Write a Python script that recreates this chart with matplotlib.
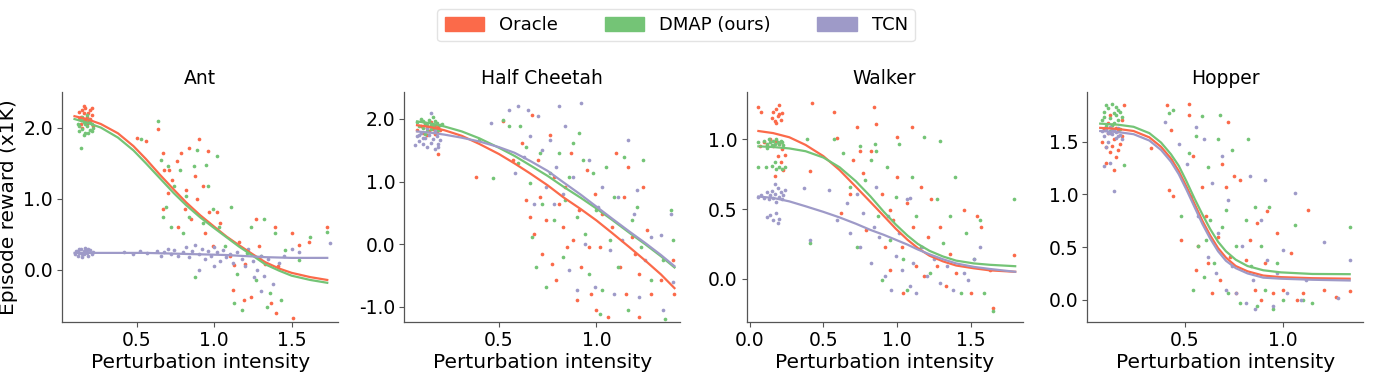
import numpy as np
import matplotlib
matplotlib.use("Agg")
import matplotlib.pyplot as plt
from matplotlib.patches import Patch

# colours for the three methods
c_oracle = '#fb6a4a'
c_dmap = '#74c476'
c_tcn = '#9e9ac8'

methods = ['Oracle', 'DMAP (ours)', 'TCN']
titles = ['Ant', 'Half Cheetah', 'Walker', 'Hopper']

# ---------------- Ant ----------------
ant_oracle_pts = [
    (0.13, 2.22), (0.14, 2.15), (0.15, 2.25), (0.16, 2.10), (0.17, 2.28), (0.18, 2.05), (0.19, 2.20),
    (0.20, 2.12), (0.21, 2.18), (0.14, 2.05), (0.16, 2.20), (0.18, 2.15), (0.20, 2.25), (0.15, 2.00),
    (0.17, 2.10), (0.19, 2.08), (0.22, 2.02), (0.13, 2.12), (0.21, 2.28), (0.16, 2.30),
    (0.50, 1.85), (0.56, 1.81), (0.64, 1.98), (0.67, 1.65), (0.68, 1.41), (0.67, 0.85), (0.70, 1.08),
    (0.71, 1.41), (0.73, 1.27), (0.76, 1.53), (0.77, 0.61), (0.79, 1.65), (0.81, 0.85), (0.82, 1.13),
    (0.84, 1.72), (0.85, 0.71), (0.88, 1.32), (0.89, 0.99), (0.90, 1.84), (0.93, 1.18), (0.94, 0.52),
    (0.96, 1.67), (0.97, 0.82), (0.99, 0.33), (1.02, 0.82), (1.04, 0.66), (1.10, 0.19), (1.12, -0.28),
    (1.13, 0.07), (1.16, 0.40), (1.19, -0.42), (1.20, 0.09), (1.24, -0.38), (1.27, 0.71), (1.29, 0.33),
    (1.33, 0.09), (1.37, -0.47), (1.39, 0.61), (1.40, -0.61), (1.41, 0.05), (1.50, 0.52), (1.51, -0.68),
    (1.55, 0.35), (1.61, 0.40), (1.73, 0.61),
]
ant_dmap_pts = [
    (0.12, 2.05), (0.13, 1.95), (0.14, 2.10), (0.15, 1.98), (0.16, 2.08), (0.17, 1.92), (0.18, 2.02),
    (0.19, 2.12), (0.20, 1.97), (0.21, 2.05), (0.14, 1.72), (0.15, 2.15), (0.17, 2.05), (0.19, 1.93),
    (0.22, 2.00), (0.13, 2.02), (0.16, 1.90), (0.18, 2.18), (0.20, 2.08), (0.21, 1.95),
    (0.53, 1.84), (0.64, 2.09), (0.66, 1.55), (0.67, 0.75), (0.69, 0.89), (0.70, 1.46), (0.72, 0.61),
    (0.74, 1.18), (0.78, 1.41), (0.80, 0.52), (0.82, 1.04), (0.84, 0.75), (0.87, 1.46), (0.89, 1.69),
    (0.88, -0.10), (0.93, 0.66), (0.95, 1.48), (0.96, 1.18), (0.99, 0.85), (1.02, 1.60), (1.03, 0.61),
    (1.07, 0.33), (1.11, 0.89), (1.13, -0.47), (1.15, -0.05), (1.18, -0.56), (1.21, 0.24), (1.24, 0.61),
    (1.27, -0.14), (1.30, 0.19), (1.32, 0.71), (1.34, -0.52), (1.36, -0.33), (1.39, 0.52), (1.43, -0.42),
    (1.46, 0.28), (1.55, 0.14), (1.62, 0.47), (1.73, 0.54),
]
ant_tcn_pts = [
    (0.10, 0.22), (0.11, 0.26), (0.12, 0.20), (0.13, 0.24), (0.14, 0.29), (0.15, 0.22), (0.16, 0.27),
    (0.17, 0.31), (0.18, 0.24), (0.19, 0.20), (0.20, 0.28), (0.21, 0.23), (0.22, 0.25), (0.13, 0.30),
    (0.15, 0.18), (0.17, 0.26), (0.19, 0.30), (0.16, 0.23), (0.18, 0.28), (0.12, 0.27),
    (0.42, 0.25), (0.48, 0.22), (0.52, 0.27), (0.57, 0.24), (0.63, 0.27), (0.66, 0.20), (0.68, 0.25),
    (0.70, 0.30), (0.72, 0.22), (0.74, 0.28), (0.77, 0.20), (0.80, 0.25), (0.82, 0.32), (0.84, 0.18),
    (0.86, 0.27), (0.88, 0.35), (0.90, 0.22), (0.92, 0.30), (0.94, 0.15), (0.96, 0.27), (0.98, 0.20),
    (1.00, 0.32), (1.02, 0.25), (1.04, 0.12), (1.06, 0.28), (1.08, 0.18), (1.10, 0.22), (1.12, 0.10),
    (1.15, 0.25), (1.18, 0.15), (1.20, 0.05), (1.22, 0.30), (1.25, 0.12), (1.28, 0.00), (1.30, 0.20),
    (1.32, -0.08), (1.35, 0.15), (1.38, -0.20), (1.42, 0.10), (1.45, 0.20), (1.50, 0.30), (1.55, 0.25),
    (1.75, 0.38), (0.90, 0.00), (1.00, 0.05), (1.30, -0.30), (1.26, -0.10),
]
ant_curve_x = [0.10, 0.18, 0.27, 0.38, 0.48, 0.56, 0.65, 0.74, 0.82, 0.91, 1.00, 1.08, 1.16, 1.25,
               1.33, 1.42, 1.50, 1.62, 1.73]
ant_oracle_curve = [2.16, 2.12, 2.05, 1.92, 1.74, 1.56, 1.34, 1.13, 0.95, 0.77, 0.61, 0.47, 0.35,
                    0.22, 0.11, 0.02, -0.04, -0.10, -0.14]
ant_dmap_curve = [2.12, 2.07, 2.00, 1.86, 1.68, 1.50, 1.29, 1.08, 0.91, 0.74, 0.59, 0.46, 0.33,
                  0.20, 0.08, -0.01, -0.08, -0.14, -0.18]
ant_tcn_curve = [0.24, 0.24, 0.24, 0.24, 0.24, 0.24, 0.235, 0.23, 0.225, 0.22, 0.215, 0.21, 0.20,
                 0.19, 0.18, 0.175, 0.17, 0.17, 0.17]

# ---------------- Half Cheetah ----------------
hc_oracle_pts = [
    (0.08, 1.82), (0.10, 1.88), (0.11, 1.78), (0.12, 1.92), (0.13, 1.85), (0.14, 1.80), (0.15, 1.95),
    (0.16, 1.84), (0.17, 1.90), (0.18, 1.79), (0.19, 1.87), (0.20, 1.83), (0.19, 1.44), (0.13, 1.75),
    (0.15, 1.88), (0.17, 1.76),
    (0.38, 1.08), (0.52, 1.96), (0.57, 1.35), (0.62, 1.62), (0.64, 0.71), (0.66, 0.44), (0.67, 2.07),
    (0.68, 0.17), (0.70, 1.35), (0.71, 0.76), (0.72, -0.15), (0.74, 0.39), (0.76, 1.75), (0.77, -0.31),
    (0.78, 1.08), (0.79, -0.57), (0.81, 0.65), (0.83, 0.28), (0.84, 0.92), (0.85, -0.04), (0.87, 1.46),
    (0.88, 0.07), (0.90, -0.89), (0.91, 0.55), (0.92, -0.36), (0.95, 1.19), (0.96, -0.04), (0.97, -0.79),
    (0.99, 0.81), (1.00, -1.05), (1.02, -0.04), (1.03, 0.49), (1.06, -1.16), (1.08, 0.28), (1.10, 1.46),
    (1.12, -0.36), (1.14, 0.76), (1.15, -0.79), (1.16, 1.24), (1.18, 0.12), (1.20, -0.15), (1.22, -0.47),
    (1.22, -1.16), (1.24, 0.92), (1.26, 0.23), (1.28, -0.79), (1.33, -0.57), (1.39, -0.25), (1.40, -0.79),
]
hc_dmap_pts = [
    (0.08, 1.95), (0.09, 1.88), (0.10, 2.00), (0.11, 1.85), (0.12, 1.93), (0.13, 1.80), (0.14, 1.98),
    (0.15, 1.90), (0.16, 2.03), (0.17, 1.86), (0.18, 1.94), (0.19, 1.82), (0.20, 1.90), (0.11, 1.97),
    (0.13, 1.91), (0.15, 1.84), (0.17, 1.96), (0.12, 1.76), (0.16, 1.88), (0.21, 1.92),
    (0.40, 1.67), (0.47, 1.05), (0.52, 1.99), (0.55, 1.88), (0.60, 1.30), (0.61, 1.88), (0.64, 1.56),
    (0.66, 0.97), (0.67, 0.12), (0.69, -0.36), (0.71, 1.46), (0.72, 0.65), (0.74, -0.68), (0.76, 1.14),
    (0.78, 0.39), (0.81, 1.46), (0.83, -0.20), (0.84, 0.71), (0.86, 1.08), (0.88, 1.62), (0.90, 0.44),
    (0.91, 1.78), (0.93, 1.35), (0.94, 0.17), (0.96, -0.47), (0.98, 1.14), (1.00, 0.55), (1.02, -1.11),
    (1.03, -0.73), (1.05, 1.24), (1.07, 0.07), (1.09, 0.76), (1.11, -0.36), (1.14, 1.40), (1.16, -1.05),
    (1.18, 0.39), (1.21, 0.60), (1.23, -0.04), (1.24, 1.35), (1.28, -0.57), (1.34, -0.25), (1.38, 0.55),
    (1.39, 0.07), (1.35, -1.19),
]
hc_tcn_pts = [
    (0.07, 1.58), (0.08, 1.72), (0.09, 1.65), (0.10, 1.78), (0.11, 1.60), (0.12, 1.70), (0.13, 1.55),
    (0.14, 1.75), (0.15, 1.62), (0.16, 1.68), (0.17, 1.52), (0.18, 1.73), (0.19, 1.60), (0.20, 1.66),
    (0.13, 1.85), (0.15, 2.10), (0.11, 1.70), (0.17, 1.80), (0.09, 1.75), (0.19, 1.56),
    (0.46, 1.94), (0.55, 2.15), (0.58, 1.14), (0.60, 2.20), (0.63, 1.40), (0.65, 2.15), (0.66, 1.72),
    (0.68, 0.65), (0.70, 2.04), (0.72, 1.51), (0.74, 0.92), (0.76, 1.67), (0.78, 0.65), (0.79, 1.24),
    (0.81, 2.20), (0.83, 0.81), (0.84, 1.88), (0.86, -0.41), (0.88, 1.08), (0.90, -0.73), (0.92, 2.26),
    (0.94, 0.01), (0.96, 1.35), (0.99, -0.68), (1.01, 0.60), (1.03, 0.92), (1.07, -0.09), (1.09, -0.79),
    (1.11, 0.76), (1.13, 0.07), (1.16, 1.67), (1.19, 0.49), (1.21, 0.87), (1.22, -0.84), (1.25, -0.25),
    (1.28, 0.12), (1.33, 0.15), (1.38, 0.49), (1.39, -0.60), (1.34, -1.05),
]
hc_curve_x = [0.08, 0.15, 0.22, 0.31, 0.40, 0.50, 0.58, 0.66, 0.75, 0.83, 0.92, 1.00, 1.08, 1.17,
              1.25, 1.33, 1.40]
hc_oracle_curve = [1.90, 1.87, 1.82, 1.73, 1.60, 1.44, 1.29, 1.13, 0.94, 0.75, 0.56, 0.38, 0.18,
                   -0.05, -0.26, -0.48, -0.70]
hc_dmap_curve = [1.96, 1.93, 1.88, 1.80, 1.69, 1.54, 1.41, 1.26, 1.09, 0.92, 0.74, 0.57, 0.39,
                 0.18, 0.00, -0.19, -0.37]
hc_tcn_curve = [1.80, 1.78, 1.75, 1.70, 1.64, 1.55, 1.46, 1.33, 1.17, 0.99, 0.79, 0.60, 0.41,
                0.20, 0.02, -0.17, -0.35]

# ---------------- Walker ----------------
wk_oracle_pts = [
    (0.15, 1.15), (0.16, 1.20), (0.17, 1.13), (0.18, 1.22), (0.19, 1.17), (0.20, 1.25), (0.21, 1.14),
    (0.22, 1.19), (0.18, 1.12), (0.20, 1.18), (0.06, 1.23), (0.08, 1.20), (0.10, 0.98), (0.12, 0.96),
    (0.14, 1.00), (0.16, 0.95), (0.18, 0.99), (0.20, 0.97), (0.22, 0.93), (0.24, 0.89), (0.21, 0.84),
    (0.23, 0.78), (0.17, 0.74), (0.07, 0.95), (0.19, 0.88),
    (0.42, 1.26), (0.57, 1.20), (0.59, 1.01), (0.41, 0.77), (0.62, 0.47), (0.68, 0.61), (0.70, 0.85),
    (0.73, 1.09), (0.75, 0.92), (0.77, 0.76), (0.79, 0.35), (0.82, 0.92), (0.84, 1.23), (0.86, 1.11),
    (0.90, 0.61), (0.92, 0.23), (0.95, 0.06), (0.97, 0.42), (1.00, 0.73), (1.03, 0.23), (1.04, -0.10),
    (1.07, 0.54), (1.10, 1.09), (1.11, 0.37), (1.13, 0.09), (1.16, 0.66), (1.18, 0.02), (1.21, 0.30),
    (1.23, 0.57), (1.27, 0.09), (1.29, 0.37), (1.33, -0.05), (1.36, 0.18), (1.40, 0.04), (1.45, 0.49),
    (1.50, -0.10), (1.54, 0.45), (1.57, 0.37), (1.63, 0.06), (1.65, -0.21), (1.79, 0.17), (0.95, 0.49),
    (1.00, 1.02),
]
wk_dmap_pts = [
    (0.06, 0.98), (0.10, 0.99), (0.12, 0.97), (0.13, 1.00), (0.14, 0.98), (0.15, 0.96), (0.16, 0.99),
    (0.17, 0.97), (0.18, 1.00), (0.19, 0.98), (0.20, 0.97), (0.21, 0.99), (0.22, 0.98), (0.23, 0.96),
    (0.06, 0.80), (0.11, 0.80), (0.15, 0.81), (0.18, 0.79), (0.20, 0.80), (0.22, 0.79), (0.24, 0.80),
    (0.17, 0.84), (0.12, 0.94),
    (0.39, 1.00), (0.41, 0.26), (0.57, 1.00), (0.63, 0.90), (0.68, 0.66), (0.73, 0.23), (0.75, 0.95),
    (0.78, 0.71), (0.82, 0.85), (0.85, 0.97), (0.87, 0.45), (0.90, -0.01), (0.93, 0.80), (0.95, 0.28),
    (0.99, 0.59), (1.01, 0.97), (1.04, 0.14), (1.07, -0.08), (1.10, 0.73), (1.13, 0.45), (1.16, 0.23),
    (1.18, 1.02), (1.22, 0.04), (1.27, 0.57), (1.29, 0.99), (1.31, 0.26), (1.36, 0.45), (1.39, 0.73),
    (1.43, -0.10), (1.47, 0.33), (1.52, 0.14), (1.56, 0.42), (1.59, -0.10), (1.65, -0.23), (1.79, 0.57),
    (0.86, 0.92),
]
wk_tcn_pts = [
    (0.06, 0.59), (0.08, 0.60), (0.10, 0.58), (0.12, 0.62), (0.13, 0.57), (0.14, 0.60), (0.15, 0.63),
    (0.16, 0.58), (0.17, 0.61), (0.18, 0.55), (0.19, 0.65), (0.20, 0.59), (0.21, 0.62), (0.22, 0.57),
    (0.23, 0.60), (0.12, 0.44), (0.14, 0.46), (0.16, 0.42), (0.18, 0.47), (0.20, 0.43), (0.19, 0.40),
    (0.17, 0.68), (0.24, 0.64),
    (0.37, 0.65), (0.41, 0.28), (0.54, 0.64), (0.59, 0.42), (0.66, 0.54), (0.68, 0.33), (0.73, 0.61),
    (0.75, 0.23), (0.77, 0.47), (0.82, 0.11), (0.84, 0.37), (0.86, 0.66), (0.88, 0.30), (0.92, 0.02),
    (0.94, 0.45), (0.96, -0.08), (0.99, 0.16), (1.01, 0.33), (1.03, 0.06), (1.07, 0.57), (1.09, -0.05),
    (1.11, 0.11), (1.13, -0.10), (1.17, 0.23), (1.20, 0.02), (1.25, 0.14), (1.29, -0.03), (1.34, 0.09),
    (1.38, -0.08), (1.45, 0.04), (1.48, -0.01), (1.52, 0.14), (1.56, 0.23), (1.09, 0.58),
]
wk_curve_x = [0.06, 0.16, 0.27, 0.38, 0.50, 0.61, 0.72, 0.82, 0.91, 0.99, 1.07, 1.14, 1.22, 1.31,
              1.40, 1.52, 1.63, 1.80]
wk_oracle_curve = [1.06, 1.045, 1.015, 0.96, 0.88, 0.78, 0.66, 0.55, 0.45, 0.36, 0.28, 0.22, 0.165,
                   0.125, 0.095, 0.075, 0.06, 0.05]
wk_dmap_curve = [0.95, 0.945, 0.935, 0.915, 0.87, 0.80, 0.70, 0.59, 0.48, 0.39, 0.31, 0.25, 0.20,
                 0.16, 0.13, 0.11, 0.10, 0.09]
wk_tcn_curve = [0.59, 0.58, 0.555, 0.52, 0.48, 0.44, 0.395, 0.35, 0.315, 0.28, 0.245, 0.21, 0.175,
                0.14, 0.11, 0.085, 0.07, 0.05]

# ---------------- Hopper ----------------
hp_oracle_pts = [
    (0.08, 1.50), (0.09, 1.62), (0.10, 1.45), (0.11, 1.58), (0.12, 1.40), (0.13, 1.66), (0.14, 1.52),
    (0.15, 1.35), (0.16, 1.60), (0.17, 1.48), (0.18, 1.70), (0.19, 1.85), (0.14, 1.23), (0.12, 1.75),
    (0.10, 1.30), (0.16, 1.42), (0.18, 1.55), (0.11, 1.68), (0.13, 1.46), (0.15, 1.63),
    (0.33, 1.44), (0.41, 1.85), (0.43, 1.61), (0.42, 1.04), (0.44, 0.98), (0.48, 0.57), (0.52, 1.75),
    (0.52, 1.86), (0.54, 1.36), (0.56, 0.28), (0.57, 0.51), (0.59, 1.07), (0.61, 0.79), (0.62, 0.35),
    (0.64, 0.06), (0.67, 0.60), (0.68, 0.19), (0.69, 1.29), (0.71, 1.07), (0.72, 1.69), (0.73, 0.41),
    (0.75, 1.17), (0.76, 0.06), (0.78, 1.14), (0.81, 0.38), (0.83, 0.57), (0.86, 0.09), (0.87, 0.73),
    (0.89, 0.00), (0.91, 0.35), (0.92, 0.84), (0.95, 0.06), (0.97, 0.63), (1.00, 0.09), (1.04, 0.44),
    (1.07, 0.00), (1.13, 0.85), (1.10, 0.06), (1.21, 0.09), (1.34, 0.08), (1.27, 0.03),
]
hp_dmap_pts = [
    (0.08, 1.70), (0.09, 1.78), (0.10, 1.65), (0.11, 1.82), (0.12, 1.72), (0.13, 1.86), (0.14, 1.68),
    (0.15, 1.75), (0.16, 1.80), (0.17, 1.62), (0.18, 1.73), (0.10, 1.85), (0.12, 1.60), (0.14, 1.77),
    (0.16, 1.70), (0.19, 1.28), (0.13, 1.66), (0.09, 1.73), (0.15, 1.83), (0.17, 1.78),
    (0.42, 1.77), (0.44, 1.80), (0.48, 0.79), (0.52, 1.39), (0.54, 0.09), (0.56, 1.55), (0.57, 0.51),
    (0.59, 1.74), (0.60, 0.22), (0.62, 1.26), (0.63, 0.76), (0.65, 0.35), (0.67, 1.52), (0.68, 1.75),
    (0.69, 0.69), (0.71, 0.85), (0.72, 0.06), (0.74, 1.42), (0.76, 0.51), (0.78, -0.03), (0.81, 0.76),
    (0.82, 1.52), (0.84, 0.32), (0.86, 0.88), (0.87, -0.06), (0.89, 0.51), (0.91, 0.09), (0.93, 0.88),
    (0.95, -0.09), (0.97, 0.35), (1.00, 0.00), (1.06, 0.71), (1.10, 0.00), (1.15, -0.03), (1.34, 0.69),
    (0.61, 0.57),
]
hp_tcn_pts = [
    (0.08, 1.60), (0.09, 1.55), (0.10, 1.62), (0.11, 1.58), (0.12, 1.64), (0.13, 1.57), (0.14, 1.61),
    (0.15, 1.53), (0.16, 1.63), (0.17, 1.56), (0.18, 1.52), (0.09, 1.27), (0.12, 1.30), (0.14, 1.03),
    (0.11, 1.50), (0.13, 1.62), (0.15, 1.59), (0.10, 1.45), (0.16, 1.55), (0.12, 1.58),
    (0.40, 1.69), (0.43, 1.33), (0.47, 1.48), (0.51, 1.29), (0.53, 0.98), (0.56, 1.64), (0.57, 0.79),
    (0.60, 1.52), (0.62, 0.41), (0.64, 1.11), (0.66, 0.25), (0.67, 0.63), (0.69, 1.36), (0.71, 0.09),
    (0.72, 0.95), (0.74, 0.32), (0.76, 0.06), (0.79, 0.51), (0.81, -0.03), (0.83, 1.17), (0.85, 0.19),
    (0.86, -0.09), (0.89, 0.76), (0.91, 1.14), (0.92, 0.38), (0.95, -0.06), (0.97, 0.25), (1.00, 0.47),
    (1.02, 0.06), (1.06, 1.01), (1.09, 0.00), (1.12, 0.19), (1.21, 0.55), (1.28, 0.02), (1.34, 0.38),
]
hp_curve_x = [0.07, 0.16, 0.24, 0.32, 0.38, 0.43, 0.47, 0.51, 0.55, 0.59, 0.63, 0.67, 0.71, 0.76,
              0.82, 0.90, 0.99, 1.15, 1.34]
hp_oracle_curve = [1.63, 1.62, 1.60, 1.54, 1.45, 1.34, 1.22, 1.07, 0.91, 0.75, 0.61, 0.49, 0.40,
                   0.32, 0.27, 0.23, 0.215, 0.205, 0.20]
hp_dmap_curve = [1.67, 1.66, 1.64, 1.58, 1.49, 1.38, 1.27, 1.12, 0.96, 0.81, 0.67, 0.55, 0.46,
                 0.38, 0.32, 0.28, 0.26, 0.245, 0.243]
hp_tcn_curve = [1.60, 1.59, 1.57, 1.51, 1.42, 1.31, 1.19, 1.04, 0.88, 0.72, 0.58, 0.46, 0.37,
                0.30, 0.25, 0.21, 0.20, 0.19, 0.183]

panels = [
    (ant_oracle_pts, ant_dmap_pts, ant_tcn_pts, ant_curve_x, ant_oracle_curve, ant_dmap_curve, ant_tcn_curve),
    (hc_oracle_pts, hc_dmap_pts, hc_tcn_pts, hc_curve_x, hc_oracle_curve, hc_dmap_curve, hc_tcn_curve),
    (wk_oracle_pts, wk_dmap_pts, wk_tcn_pts, wk_curve_x, wk_oracle_curve, wk_dmap_curve, wk_tcn_curve),
    (hp_oracle_pts, hp_dmap_pts, hp_tcn_pts, hp_curve_x, hp_oracle_curve, hp_dmap_curve, hp_tcn_curve),
]
xlims = [(0.02, 1.80), (0.015, 1.43), (-0.02, 1.85), (0.005, 1.41)]
ylims = [(-0.73, 2.50), (-1.24, 2.43), (-0.31, 1.34), (-0.21, 1.97)]
xticks = [[0.5, 1.0, 1.5], [0.5, 1.0], [0.0, 0.5, 1.0, 1.5], [0.5, 1.0]]
yticks = [[0.0, 1.0, 2.0], [-1.0, 0.0, 1.0, 2.0], [0.0, 0.5, 1.0], [0.0, 0.5, 1.0, 1.5]]

fig = plt.figure(figsize=(13.8, 3.77), dpi=100)
lefts = [0.045, 0.293, 0.541, 0.788]
colors = [c_oracle, c_dmap, c_tcn]

for k in range(4):
    ax = fig.add_axes([lefts[k], 0.146, 0.2, 0.61])
    data = panels[k]
    for pts, col in zip(data[:3], colors):
        p = np.array(pts)
        ax.scatter(p[:, 0], p[:, 1], s=7, color=col, linewidths=0, zorder=2)
    cx = data[3]
    for cy, col in zip(data[4:], colors):
        ax.plot(cx, cy, color=col, lw=1.6, zorder=3)
    ax.set_xlim(*xlims[k])
    ax.set_ylim(*ylims[k])
    ax.set_xticks(xticks[k])
    ax.set_yticks(yticks[k])
    ax.set_xticklabels(['%.1f' % v for v in xticks[k]])
    ax.set_yticklabels(['%.1f' % v for v in yticks[k]])
    ax.tick_params(labelsize=13.5, length=3.5, width=0.8, color='#555555', pad=3)
    for s in ['top', 'right']:
        ax.spines[s].set_visible(False)
    for s in ['left', 'bottom']:
        ax.spines[s].set_color('#555555')
        ax.spines[s].set_linewidth(0.9)
    ax.set_title(titles[k], fontsize=13.5, pad=6)
    ax.set_xlabel('Perturbation intensity', fontsize=14.5, labelpad=2)
    if k == 0:
        ax.set_ylabel('Episode reward (x1K)', fontsize=14.5, labelpad=4)

handles = [Patch(color=c, label=m) for c, m in zip(colors, methods)]
fig.legend(handles=handles, loc='upper center', bbox_to_anchor=(0.49, 1.0), ncol=3,
           fontsize=13, handlelength=2.2, handleheight=0.8, columnspacing=2.6,
           frameon=True, edgecolor='#dddddd', fancybox=True)

plt.savefig('out.png', dpi=100)
plt.close()
